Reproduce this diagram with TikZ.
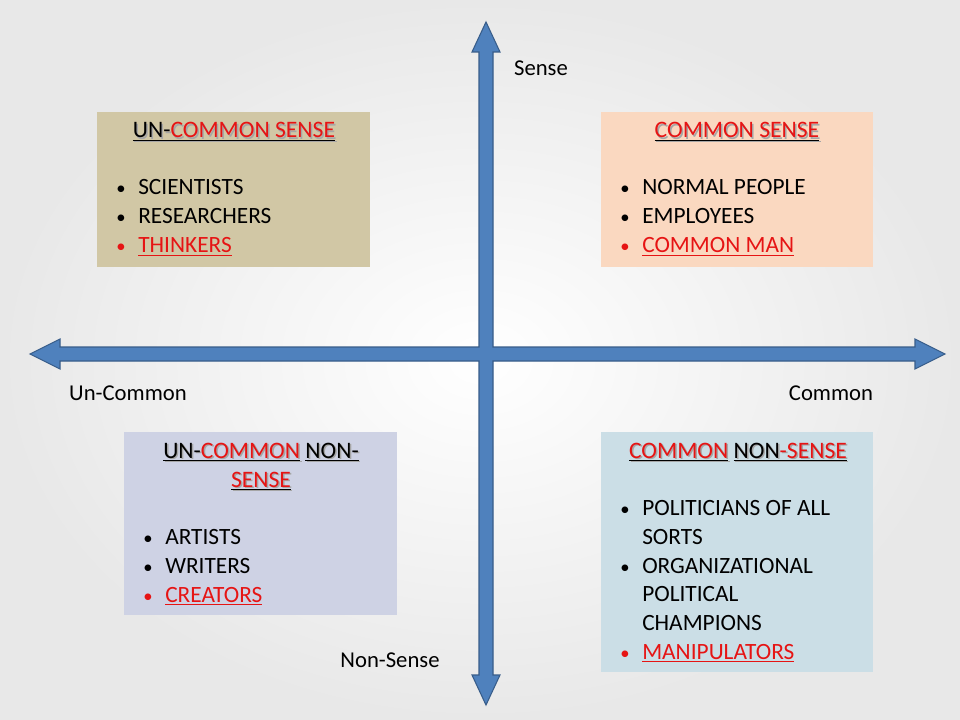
\documentclass[tikz,border=0pt]{standalone}
\usepackage{fontspec}
\setmainfont{Carlito}
\usetikzlibrary{shadings}
\definecolor{ablue}{RGB}{79,129,189}
\definecolor{ablued}{RGB}{56,93,138}
\definecolor{tan}{RGB}{209,199,165}
\definecolor{peach}{RGB}{250,216,192}
\definecolor{lav}{RGB}{206,210,228}
\definecolor{lblue}{RGB}{203,222,230}
\definecolor{rd}{RGB}{230,20,20}
\newcommand{\R}[1]{\textcolor{rd}{#1}}
\newcommand{\itm}[5][black]{\node[txt,text=#1] (#2b) at (#3,#4) {\fontsize{14}{20}\selectfont•};\node[txt,text=#1] (#2) at (#3+22,#4) {#5};}
\begin{document}
\begin{tikzpicture}[x=0.75pt,y=-0.75pt,
  txt/.style={font=\fontsize{17.5}{20}\selectfont,inner sep=0pt,anchor=base west},
  hdr/.style={font=\fontsize{17.7}{20}\selectfont,inner sep=0pt,anchor=base},
  lbl/.style={font=\fontsize{17}{20}\selectfont,inner sep=0pt}]
\useasboundingbox (0,0) rectangle (960,720);
\shade[inner color=white,outer color=black!9] (0,0) rectangle (960,720);
% boxes
\fill[tan] (97,112) rectangle (370,267);
\fill[peach] (601,112) rectangle (873,267);
\fill[lav] (124,432) rectangle (397,615);
\fill[lblue] (601,432) rectangle (873,672);
% arrows
\fill[ablue,draw=ablued,line width=0.8pt] (479,347) -- (479,52) -- (472,52) -- (486,22) -- (500,52) -- (493,52) -- (493,347)
  -- (915,347) -- (915,339) -- (945,354) -- (915,369) -- (915,361) -- (493,361)
  -- (493,675) -- (500,675) -- (486,705) -- (472,675) -- (479,675) -- (479,361)
  -- (60,361) -- (60,369) -- (30,354) -- (60,339) -- (60,347) -- cycle;
% axis labels
\node[lbl] (s) at (541,68) {Sense};
\node[lbl] (uc) at (128,393) {Un-Common};
\node[lbl] (c) at (831,393) {Common};
\node[lbl] (ns) at (390,660) {Non-Sense};
% header shadows
\begin{scope}[text=black!35]
\node[hdr] (h1s) at (235.5,139.5) {\underline{UN-COMMON SENSE}};
\node[hdr] (h2s) at (738.5,139.5) {\underline{COMMON SENSE}};
\node[hdr] (h3s) at (262.5,459.5) {\underline{UN-COMMON} \underline{NON-}};
\node[hdr] (h3bs) at (262.5,488.5) {\underline{SENSE}};
\node[hdr] (h4s) at (739.5,459.5) {\underline{COMMON} \underline{NON-SENSE}};
\end{scope}
% TL
\node[hdr] (h1) at (234,138) {\underline{UN-}\underline{\R{COMMON SENSE}}};
\itm{a1}{116}{195}{SCIENTISTS}
\itm{a2}{116}{224}{RESEARCHERS}
\itm[rd]{a3}{116}{253}{\underline{THINKERS}}
% TR
\node[hdr] (h2) at (737,138) {\underline{\R{COMMON SENSE}}};
\itm{b1}{620}{195}{NORMAL PEOPLE}
\itm{b2}{620}{224}{EMPLOYEES}
\itm[rd]{b3}{620}{253}{\underline{COMMON MAN}}
% BL
\node[hdr] (h3) at (261,458) {\underline{UN-}\underline{\R{COMMON}} \underline{NON-}};
\node[hdr] (h3b) at (261,487) {\underline{\R{SENSE}}};
\itm{c1}{143}{544}{ARTISTS}
\itm{c2}{143}{573}{WRITERS}
\itm[rd]{c3}{143}{602}{\underline{CREATORS}}
% BR
\node[hdr] (h4) at (738,458) {\underline{\R{COMMON}} \underline{NON}\underline{\R{-SENSE}}};
\itm{d1}{620}{515}{POLITICIANS OF ALL}
\node[txt] (d1c) at (642,544) {SORTS};
\itm{d2}{620}{573}{ORGANIZATIONAL}
\node[txt] (d2b2) at (642,601) {POLITICAL};
\node[txt] (d2c) at (642,630) {CHAMPIONS};
\itm[rd]{d3}{620}{659}{\underline{MANIPULATORS}}
\end{tikzpicture}
\end{document}
